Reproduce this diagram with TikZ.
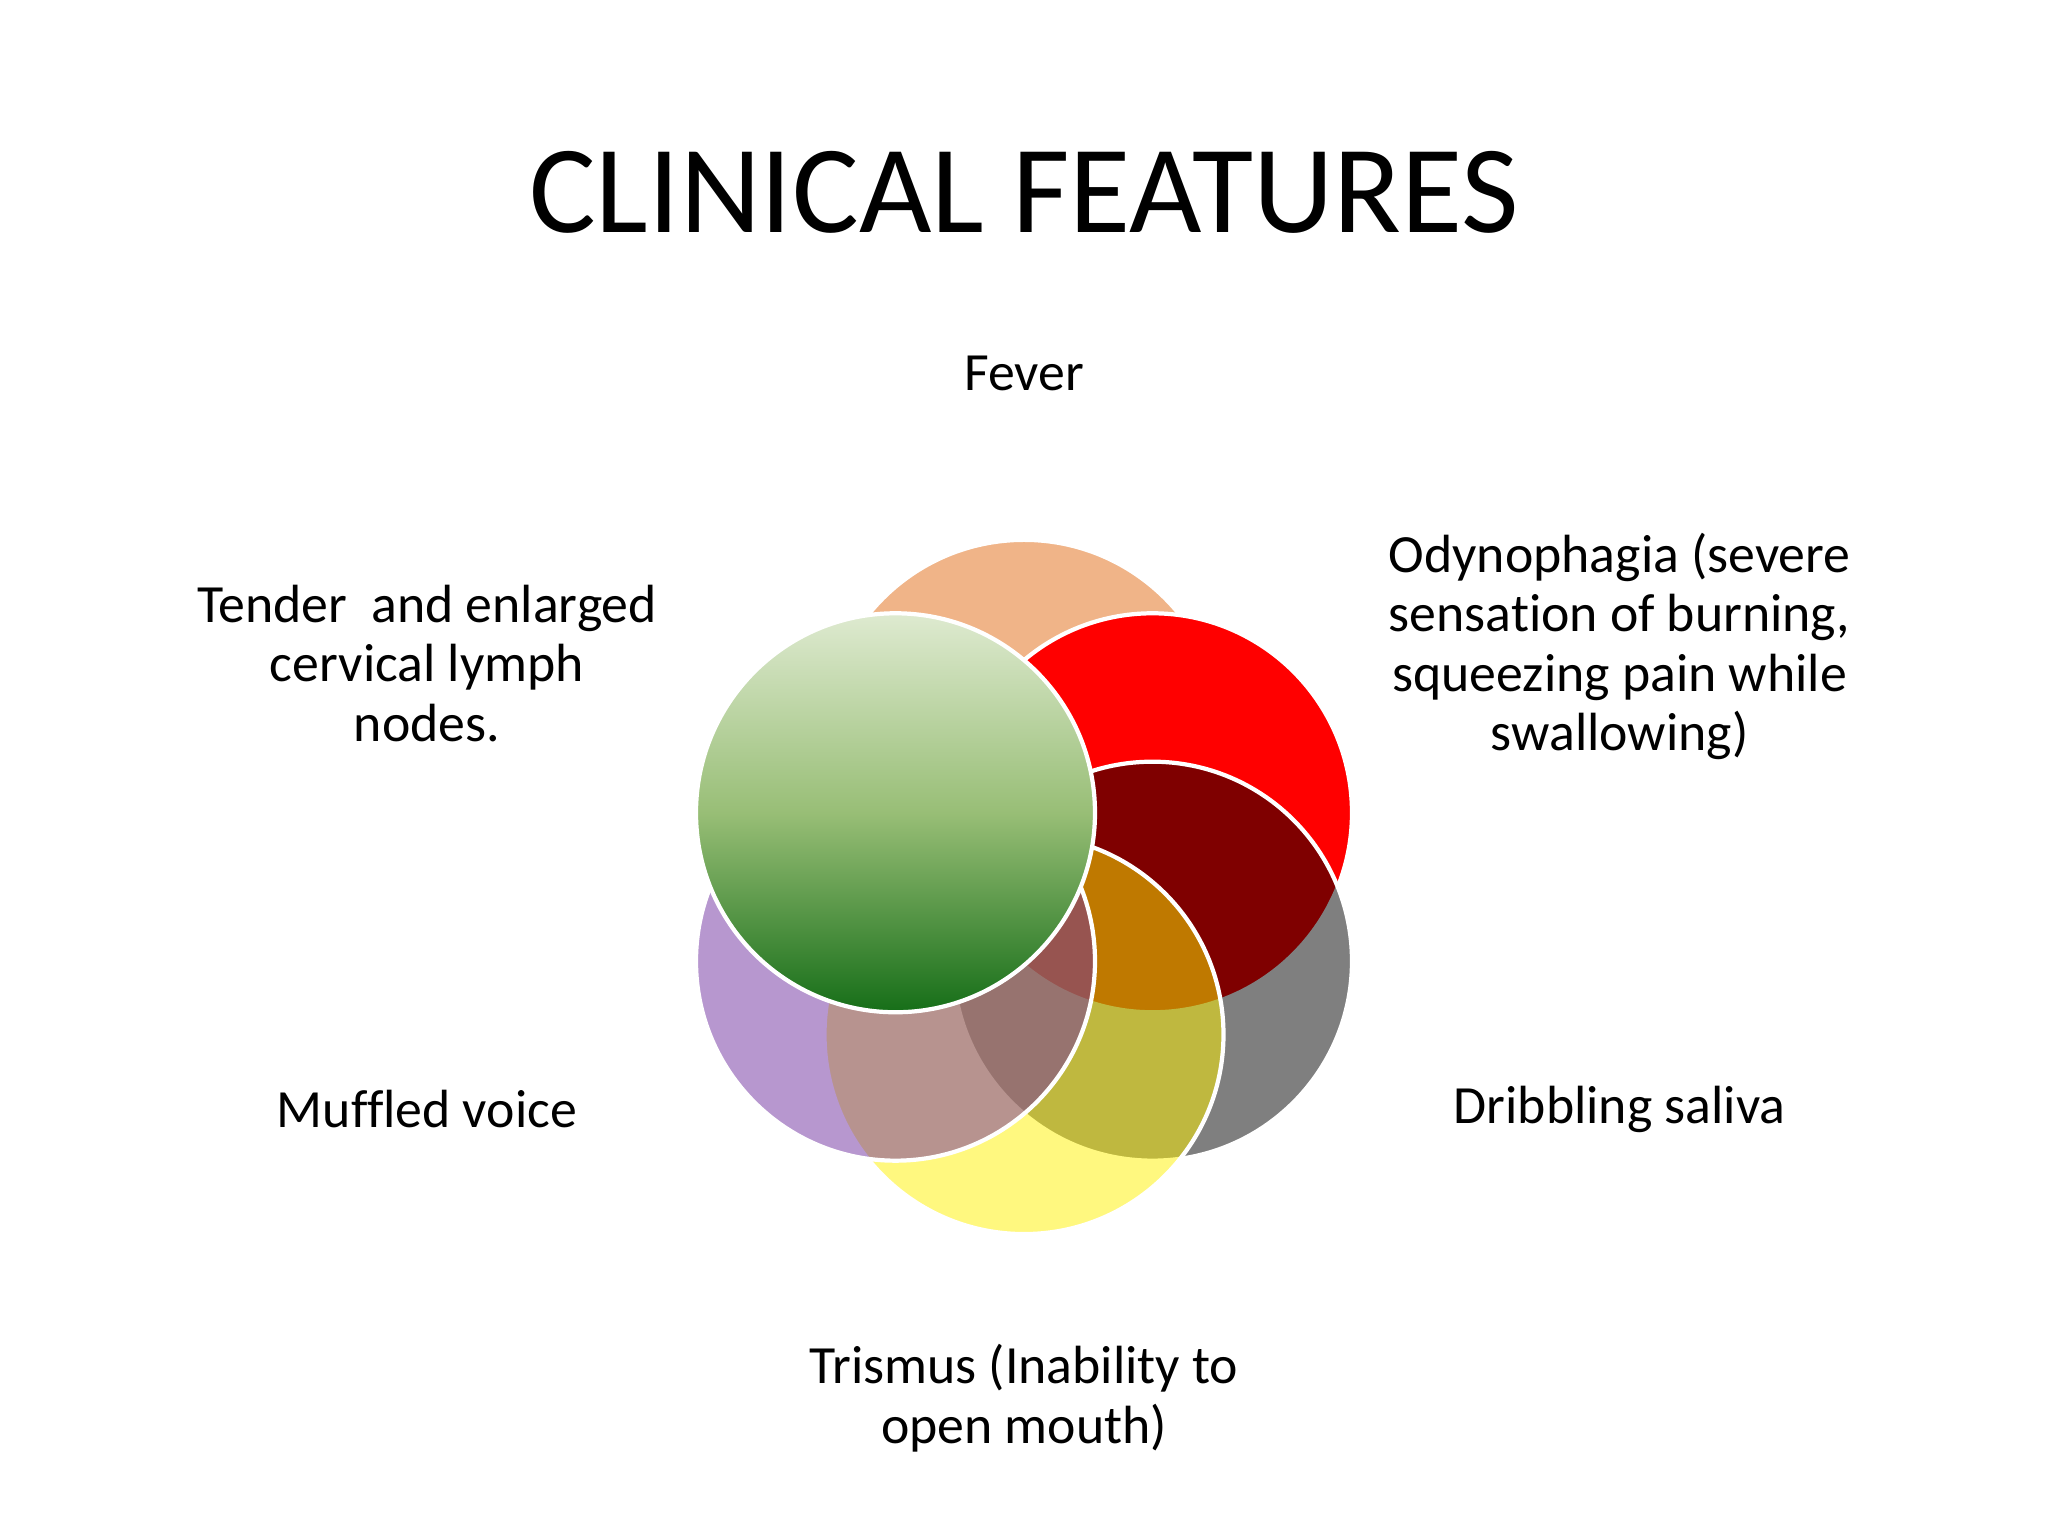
\documentclass[tikz,border=0pt]{standalone}
\usepackage{fontspec}
\setmainfont[Ligatures=NoCommon]{Carlito}
\usepackage{tikz}

\definecolor{peach}{RGB}{240,180,136}
\definecolor{petalPurple}{RGB}{112,48,160}
\definecolor{leafTop}{RGB}{222,234,208}
\definecolor{leafMid}{RGB}{152,190,118}
\definecolor{leafBottom}{RGB}{22,110,24}

\tikzset{
  petal/.style={circle, draw=white, line width=1.2pt, minimum size=3.99cm, inner sep=0pt},
  feature/.style={align=center, font=\fontsize{15.3}{16.9}\selectfont},
}

\begin{document}
\begin{tikzpicture}
\fill[white] (0,0) rectangle (20.48,15.36);
\useasboundingbox (0,0) rectangle (20.48,15.36);

\node[name=Title, anchor=base, font=\fontsize{35.6}{42}\selectfont] at (10.24,13.035) {CLINICAL FEATURES};

% the six overlapping circles, back to front
\node[name=Fever-Circle, petal, fill=peach] at (10.24,7.966) {};
\node[name=Odynophagia-Circle, petal, fill=red] at (11.525,7.232) {};
\node[name=Dribbling-Circle, petal, fill=black, fill opacity=0.5] at (11.525,5.748) {};
\node[name=Trismus-Circle, petal, fill=yellow, fill opacity=0.5] at (10.24,5.014) {};
\node[name=Muffled-Circle, petal, fill=petalPurple, fill opacity=0.5] at (8.955,5.748) {};
\node[name=Tender-Circle, petal, top color=leafTop, bottom color=leafBottom, middle color=leafMid] at (8.955,7.232) {};

% labels round the flower
\node[name=Fever, feature] at (10.24,11.625) {Fever};
\node[name=Odynophagia, feature] at (16.196,8.895) {Odynophagia (severe\\sensation of burning,\\squeezing pain while\\swallowing)};
\node[name=Dribbling-Saliva, feature] at (16.196,4.27) {Dribbling saliva};
\node[name=Trismus, feature] at (10.24,1.38) {Trismus (Inability to\\open mouth)};
\node[name=Muffled-Voice, feature] at (4.27,4.27) {Muffled voice};
\node[name=Tender-Nodes, feature] at (4.27,8.725) {Tender~ and enlarged\\cervical lymph\\nodes.};
\end{tikzpicture}
\end{document}
